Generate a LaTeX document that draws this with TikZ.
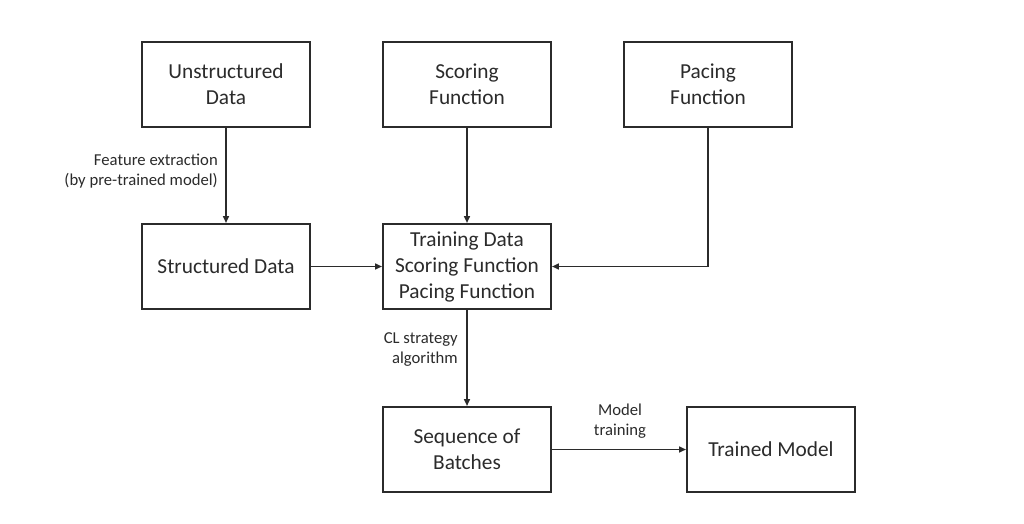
\documentclass[tikz,border=0pt]{standalone}
\usepackage{fontspec}
\setmainfont{Carlito}
\usetikzlibrary{arrows.meta}
\definecolor{ink}{HTML}{2B2B2B}
\tikzset{
  box/.style={draw=ink, line width=1.7pt, minimum width=126pt, minimum height=63.75pt, inner sep=0pt, align=center, text=ink, font=\fontsize{16}{19.5}\selectfont},
  conn/.style={draw=ink, line width=0.8pt, -{Triangle[length=5pt,width=4.5pt]}},
  lbl/.style={text=ink, inner sep=0pt, font=\fontsize{12.5}{15}\selectfont}
}
\begin{document}
\begin{tikzpicture}[x=0.75pt,y=-0.75pt]
\useasboundingbox (0,0) rectangle (1024,524);
\fill[white] (0,0) rectangle (1024,524);
\node[box] (U) at (226,84.5) {Unstructured\\Data};
\node[box] (S) at (467,84.5) {Scoring\\Function};
\node[box] (P) at (708,84.5) {Pacing\\Function};
\node[box] (SD) at (226,266.5) {Structured Data};
\node[box] (T) at (467,266.5) {Training Data\\Scoring Function\\Pacing Function};
\node[box] (SB) at (467,449.5) {Sequence of\\Batches};
\node[box] (TM) at (771,449.5) {Trained Model};
\draw[conn] (U) -- (SD);
\draw[conn] (S) -- (T);
\draw[conn] (P.south) |- (T.east);
\draw[conn] (SD) -- (T);
\draw[conn] (T) -- (SB);
\draw[conn] (SB) -- (TM);
\node[lbl, anchor=east, align=right] (l1) at (218,171) {Feature extraction\\(by pre-trained model)};
\node[lbl, anchor=east, align=right] (l2) at (458,350) {CL strategy\\algorithm};
\node[lbl, align=center] (l3) at (620,421) {Model\\training};
\end{tikzpicture}
\end{document}
